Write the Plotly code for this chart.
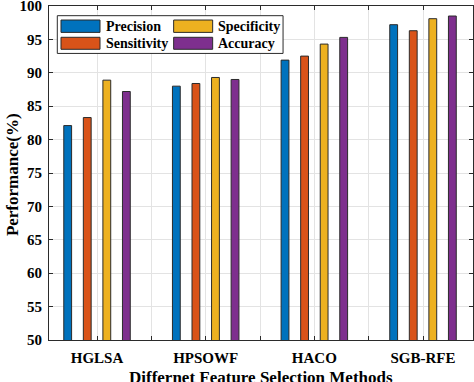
import plotly.graph_objects as go

categories = ["HGLSA", "HPSOWF", "HACO", "SGB-RFE"]
precision = [82.1, 88.0, 91.9, 97.2]
sensitivity = [83.3, 88.4, 92.5, 96.3]
specificity = [88.9, 89.3, 94.3, 98.1]
accuracy = [87.2, 89.0, 95.3, 98.5]
y_ticks = [50, 55, 60, 65, 70, 75, 80, 85, 90, 95, 100]

series_names = ["Precision", "Sensitivity", "Specificity", "Accuracy"]
series_values = [precision, sensitivity, specificity, accuracy]
series_colors = ["#0072BD", "#D95319", "#EDB120", "#7E2F8E"]

font = "Liberation Serif, Times New Roman, serif"
xpos = list(range(1, len(categories) + 1))

fig = go.Figure()
for name, vals, color in zip(series_names, series_values, series_colors):
    fig.add_trace(go.Bar(
        x=xpos, y=vals, name=name, showlegend=False,
        marker=dict(color=color, line=dict(color="#2b2b2b", width=1)),
    ))

# legend drawn as a boxed 2x2 key (columns: Precision/Sensitivity, Specificity/Accuracy)
legend_cells = [
    (0, 0, 0), (1, 0, 1), (2, 1, 0), (3, 1, 1),
]  # (series index, column, row)
col_sw_x = [(0.0283, 0.1203), (0.294, 0.386)]
col_tx_x = [0.1297, 0.394]
row_sw_y = [(0.921, 0.958), (0.8704, 0.9063)]
row_tx_y = [0.940, 0.889]

shapes = [dict(type="rect", xref="paper", yref="paper", x0=0.0196, x1=0.552,
               y0=0.858, y1=0.971, fillcolor="white",
               line=dict(color="#2b2b2b", width=1), layer="above")]
annotations = []
for si, col, row in legend_cells:
    shapes.append(dict(type="rect", xref="paper", yref="paper",
                       x0=col_sw_x[col][0], x1=col_sw_x[col][1],
                       y0=row_sw_y[row][0], y1=row_sw_y[row][1],
                       fillcolor=series_colors[si],
                       line=dict(color="#2b2b2b", width=1), layer="above"))
    annotations.append(dict(text=series_names[si], xref="paper", yref="paper",
                            x=col_tx_x[col], y=row_tx_y[row], xanchor="left",
                            yanchor="middle", showarrow=False,
                            font=dict(family=font, size=14, color="black", weight="bold")))

annotations.append(dict(text="Differnet Feature Selection Methods", xref="paper", yref="paper",
                        x=0.5, y=-0.112, xanchor="center", yanchor="middle", showarrow=False,
                        font=dict(family=font, size=17, color="black", weight="bold")))
annotations.append(dict(text="Performance(%)", xref="paper", yref="paper", textangle=-90,
                        x=-0.087, y=0.494, xanchor="center", yanchor="middle", showarrow=False,
                        font=dict(family=font, size=17, color="black", weight="bold")))

tickvals = []
ticktext = []
for i, c in enumerate(categories):
    tickvals += [i + 1, i + 1.5]
    ticktext += [c, ""]

fig.update_layout(
    width=474, height=382,
    margin=dict(l=49, r=1, t=6, b=42, autoexpand=False),
    paper_bgcolor="white", plot_bgcolor="white",
    barmode="group", bargap=0.28, bargroupgap=0.6,
    font=dict(family=font, size=15, color="black"),
    showlegend=False,
    shapes=shapes, annotations=annotations,
    xaxis=dict(
        range=[0.558, 4.46], tickmode="array", tickvals=tickvals, ticktext=ticktext,
        automargin=False,
        showgrid=True, gridcolor="#e3e3e3", gridwidth=1,
        showline=True, linecolor="#2b2b2b", linewidth=1, mirror="ticks",
        ticks="inside", ticklen=4, tickcolor="#2b2b2b",
        tickfont=dict(family=font, size=15, color="black", weight="bold"),
        ticklabelstandoff=4, ticklabeloverflow="allow",
        zeroline=False,
    ),
    yaxis=dict(
        range=[50, 100], tickmode="array", tickvals=y_ticks,
        automargin=False,
        showgrid=True, gridcolor="#e3e3e3", gridwidth=1,
        showline=True, linecolor="#2b2b2b", linewidth=1, mirror="ticks",
        ticks="inside", ticklen=4, tickcolor="#2b2b2b",
        tickfont=dict(family=font, size=15, color="black", weight="bold"),
        ticklabelstandoff=3, ticklabeloverflow="allow",
        zeroline=False,
    ),
)

fig.write_html("out.html", config={"displayModeBar": False},
               post_script="document.body.style.margin='0';")
